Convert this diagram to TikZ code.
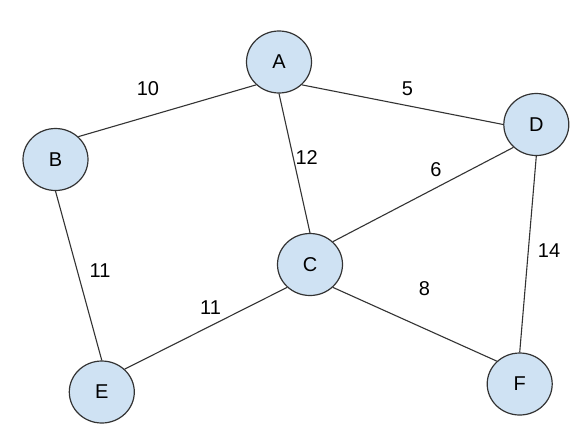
\documentclass[tikz,border=0pt]{standalone}
\usepackage{fontspec}
\setmainfont{Liberation Sans}
\usetikzlibrary{shapes.geometric}
\definecolor{nodefill}{HTML}{CFE2F3}
\definecolor{linecol}{HTML}{333333}
\begin{document}
\begin{tikzpicture}[x=1pt,y=-1pt,
  vertex/.style={ellipse,draw=linecol,line width=1.2pt,fill=nodefill,minimum width=65pt,minimum height=62pt,inner sep=0pt,font=\fontsize{20}{24}\selectfont},
  weight/.style={inner sep=0pt,font=\fontsize{20}{24}\selectfont},
  edge/.style={draw=linecol,line width=1.1pt}]
\useasboundingbox (0,0) rectangle (583,445);
\fill[white] (0,0) rectangle (583,445);
\node[vertex] (A) at (279,62) {A};
\node[vertex] (B) at (55.5,159.5) {B};
\node[vertex] (C) at (310,264.5) {C};
\node[vertex] (D) at (536.3,124.5) {D};
\node[vertex] (E) at (101.8,392) {E};
\node[vertex] (F) at (519.7,384) {F};
\draw[edge] (A.225) -- (B.45);
\draw[edge] (A.-45) -- (D.west);
\draw[edge] (A.south) -- (C.north);
\draw[edge] (B.south) -- (E.north);
\draw[edge] (C.45) -- (D.225);
\draw[edge] (C.225) -- (E.45);
\draw[edge] (C.-45) -- (F.135);
\draw[edge] (D.south) -- (F.north);
\node[weight] (w10) at (148,89) {10};
\node[weight] (w5) at (407.5,89) {5};
\node[weight] (w12) at (306.7,157.5) {12};
\node[weight] (w6) at (436,170) {6};
\node[weight] (w14) at (549,251) {14};
\node[weight] (w8) at (424.5,288.5) {8};
\node[weight] (w11a) at (100,270.5) {11};
\node[weight] (w11b) at (210.5,308) {11};
\end{tikzpicture}
\end{document}
